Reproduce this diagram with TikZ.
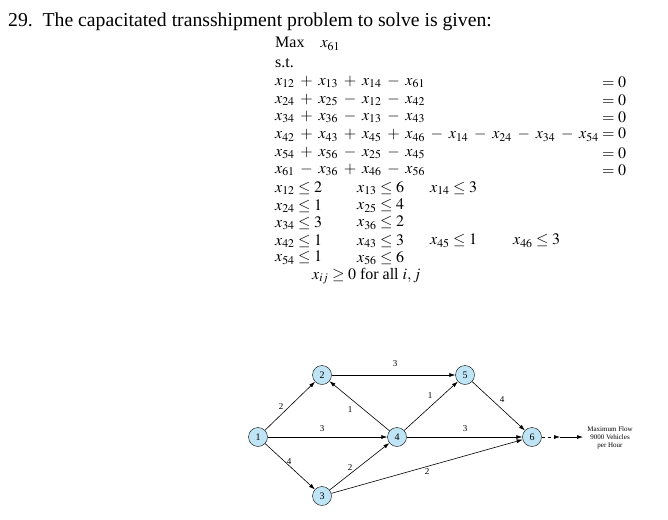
\documentclass[tikz,border=0pt]{standalone}
\usepackage{mathptmx}
\usepackage[no-math]{fontspec}
\setmainfont{Liberation Serif}
\usetikzlibrary{arrows.meta,decorations.markings}
\definecolor{vfill}{RGB}{190,228,245}
\begin{document}
\begin{tikzpicture}[x=1pt,y=-1pt,
  eq/.style={anchor=west,inner sep=0pt,font=\fontsize{16}{18}\selectfont},
  rhs/.style={anchor=east,inner sep=0pt,font=\fontsize{16}{18}\selectfont},
  vtx/.style={circle,draw,fill=vfill,minimum size=19pt,inner sep=0pt,font=\fontsize{10}{12}\selectfont},
  arc/.style={-{Latex[length=6pt,width=4pt]},semithick},
  lab/.style={font=\fontsize{9}{10}\selectfont,inner sep=1pt}]
\useasboundingbox (0,0) rectangle (668,519);
\node[anchor=west,inner sep=0pt,font=\fontsize{19.7}{21}\selectfont] (title) at (8,22) {29.\ \ The capacitated transshipment problem to solve is given:};
\node[eq] (max) at (275,44) {Max\quad $x_{61}$};
\node[eq] (st) at (275,63) {s.t.};
\node[eq] (e1) at (275,82) {$x_{12}\;+\;x_{13}\;+\;x_{14}\;-\;x_{61}$};
\node[eq] (e2) at (275,100) {$x_{24}\;+\;x_{25}\;-\;x_{12}\;-\;x_{42}$};
\node[eq] (e3) at (275,117) {$x_{34}\;+\;x_{36}\;-\;x_{13}\;-\;x_{43}$};
\node[eq] (e4) at (275,135) {$x_{42}\;+\;x_{43}\;+\;x_{45}\;+\;x_{46}\;-\;x_{14}\;-\;x_{24}\;-\;x_{34}\;-\;x_{54}=0$};
\node[eq] (e5) at (275,153) {$x_{54}\;+\;x_{56}\;-\;x_{25}\;-\;x_{45}$};
\node[eq] (e6) at (275,170) {$x_{61}\;-\;x_{36}\;+\;x_{46}\;-\;x_{56}$};
\foreach \y/\n in {82/r1,100/r2,117/r3,153/r5,170/r6}
  \node[rhs] (\n) at (e4.east |- 0,\y) {$=0$};
\node[eq] (b1) at (275,188) {$x_{12}\le 2$};
\node[eq] (b2) at (357,188) {$x_{13}\le 6$};
\node[eq] (b3) at (430,188) {$x_{14}\le 3$};
\node[eq] (b4) at (275,206) {$x_{24}\le 1$};
\node[eq] (b5) at (357,206) {$x_{25}\le 4$};
\node[eq] (b6) at (275,223) {$x_{34}\le 3$};
\node[eq] (b7) at (357,223) {$x_{36}\le 2$};
\node[eq] (b8) at (275,241) {$x_{42}\le 1$};
\node[eq] (b9) at (357,241) {$x_{43}\le 3$};
\node[eq] (b10) at (430,241) {$x_{45}\le 1$};
\node[eq] (b11) at (513,241) {$x_{46}\le 3$};
\node[eq] (b12) at (275,258) {$x_{54}\le 1$};
\node[eq] (b13) at (357,258) {$x_{56}\le 6$};
\node[eq] (b14) at (312,276) {$x_{ij}\ge 0$ for all $i,j$};
% network
\node[vtx] (n1) at (258,437) {1};
\node[vtx] (n2) at (322,375) {2};
\node[vtx] (n3) at (322,496) {3};
\node[vtx] (n4) at (397,437) {4};
\node[vtx] (n5) at (465,375) {5};
\node[vtx] (n6) at (532,437) {6};
\draw[arc] (n1) -- (n2);
\draw[arc] (n1) -- (n4);
\draw[arc] (n1) -- (n3);
\draw[arc] (n3) -- (n4);
\draw[arc] (n4) -- (n2);
\draw[arc] (n2) -- (n5);
\draw[arc] (n4) -- (n5);
\draw[arc] (n5) -- (n6);
\draw[arc] (n4) -- (n6);
\draw[arc] (n3) -- (n6);
\node[lab] (l12) at (281,407) {2};
\node[lab] (l14) at (322,429) {3};
\node[lab] (l13) at (289,462) {4};
\node[lab] (l34) at (350,468) {2};
\node[lab] (l42) at (350,410) {1};
\node[lab] (l25) at (395,364) {3};
\node[lab] (l45) at (430,396) {1};
\node[lab] (l56) at (502,400) {4};
\node[lab] (l46) at (465,429) {3};
\node[lab] (l36) at (427,472) {2};
\coordinate (m) at (560,437);
\coordinate (e) at (583,437);
\draw[arc,dashed] (n6) -- (m);
\draw[arc] (m) -- (e);
\node[align=center,font=\fontsize{7}{8}\selectfont,inner sep=0pt] (out) at (610,438) {Maximum Flow\\9000 Vehicles\\per Hour};
\end{tikzpicture}
\end{document}
